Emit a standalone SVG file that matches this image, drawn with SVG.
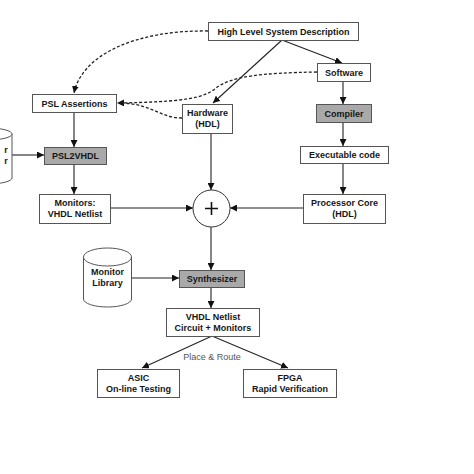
<svg xmlns="http://www.w3.org/2000/svg" width="474" height="474" viewBox="0 0 474 474">
<style>
.b{fill:#fff;stroke:#555;stroke-width:1}
.g{fill:#a9a9a9;stroke:#555;stroke-width:1}
.t{font-family:"Liberation Sans",Arial,sans-serif;font-size:9px;font-weight:bold;fill:#161616;text-anchor:middle}
.c{fill:none;stroke:#222;stroke-width:1.1}
.d{fill:none;stroke:#222;stroke-width:1.3;stroke-dasharray:3,2}
</style>
<defs>
<marker id="a" viewBox="0 0 10 10" refX="10" refY="5" markerWidth="7" markerHeight="7" markerUnits="userSpaceOnUse" orient="auto">
<path d="M0,0 L10,5 L0,10 z" fill="#111"/>
</marker>
</defs>
<rect width="474" height="474" fill="#fff"/>
<g id="connectors">
<path class="c" d="M282,40 L213,103" marker-end="url(#a)"/>
<path class="c" d="M282,40 L342,63" marker-end="url(#a)"/>
<path class="d" d="M208,31 C135,30 82,55 74,93" marker-end="url(#a)"/>
<path class="d" d="M317,72 C262,73 232,76 216,88 C204,98 185,102 117,103" marker-end="url(#a)"/>
<path class="d" d="M182,118 C160,118 152,104 122,103"/>
<path class="c" d="M74,112 L74,147" marker-end="url(#a)"/>
<path class="c" d="M12,155 L44,155" marker-end="url(#a)"/>
<path class="c" d="M74,164 L74,194" marker-end="url(#a)"/>
<path class="c" d="M110,208 L193,208" marker-end="url(#a)"/>
<path class="c" d="M211,133 L211,190" marker-end="url(#a)"/>
<path class="c" d="M303,208 L230,208" marker-end="url(#a)"/>
<path class="c" d="M343,81 L343,104" marker-end="url(#a)"/>
<path class="c" d="M343,122 L343,146" marker-end="url(#a)"/>
<path class="c" d="M343,163 L343,194" marker-end="url(#a)"/>
<path class="c" d="M211,227 L211,270" marker-end="url(#a)"/>
<path class="c" d="M131,278 L179,278" marker-end="url(#a)"/>
<path class="c" d="M211,287 L211,308" marker-end="url(#a)"/>
<path class="c" d="M212,336 L142,368" marker-end="url(#a)"/>
<path class="c" d="M212,336 L288,368" marker-end="url(#a)"/>
</g>
<g id="hlsd"><rect class="b" x="208.500" y="22.500" width="150" height="18"/><text class="t" x="283.500" y="34.500">High Level System Description</text></g>
<g id="software"><rect class="b" x="317.500" y="63.500" width="53" height="18"/><text class="t" x="344" y="75.500">Software</text></g>
<g id="compiler"><rect class="g" x="316.500" y="104.500" width="55" height="18"/><text class="t" x="344" y="116.500">Compiler</text></g>
<g id="exec"><rect class="b" x="300.500" y="146.500" width="88" height="17"/><text class="t" x="344.500" y="158">Executable code</text></g>
<g id="proc"><rect class="b" x="303.500" y="194.500" width="82" height="29"/><text class="t" x="344.500" y="206">Processor Core</text><text class="t" x="344.500" y="217">(HDL)</text></g>
<g id="hardware"><rect class="b" x="182.500" y="104.500" width="50" height="29"/><text class="t" x="207.500" y="116">Hardware</text><text class="t" x="207.500" y="127">(HDL)</text></g>
<g id="psl"><rect class="b" x="32.500" y="94.500" width="84" height="18"/><text class="t" x="74.500" y="106.500">PSL Assertions</text></g>
<g id="psl2vhdl"><rect class="g" x="44.500" y="147.500" width="62" height="17"/><text class="t" x="75.500" y="159">PSL2VHDL</text></g>
<g id="monitors"><rect class="b" x="39.500" y="194.500" width="71" height="29"/><text class="t" x="75" y="206">Monitors:</text><text class="t" x="75" y="217">VHDL Netlist</text></g>
<g id="plus"><circle cx="211.500" cy="208.500" r="18.500" fill="#fff" stroke="#333" stroke-width="1"/><path d="M205,208.500 H218 M211.500,202 V215" stroke="#111" stroke-width="1.6"/></g>
<g id="leftdb"><path class="b" d="M-36,134 V178 A24,6 0 0 0 12,178 V134"/><ellipse class="b" cx="-12" cy="134" rx="24" ry="6"/><text class="t" x="6" y="153">r</text><text class="t" x="6" y="164">r</text></g>
<g id="monlib"><path class="b" d="M83.500,257 V299 A24,8 0 0 0 131.500,299 V257"/><ellipse class="b" cx="107.500" cy="257" rx="24" ry="9"/><text class="t" x="107.500" y="275">Monitor</text><text class="t" x="107.500" y="286">Library</text></g>
<g id="synth"><rect class="g" x="179.500" y="270.500" width="65" height="17"/><text class="t" x="212" y="282">Synthesizer</text></g>
<g id="netlist"><rect class="b" x="166.500" y="308.500" width="93" height="28"/><text class="t" x="213" y="320">VHDL Netlist</text><text class="t" x="213" y="331">Circuit + Monitors</text></g>
<text x="212" y="360" style="font-family:'Liberation Sans',Arial,sans-serif;font-size:9px;fill:#555;text-anchor:middle">Place &amp; Route</text>
<g id="asic"><rect class="b" x="97.500" y="369.500" width="82" height="28"/><text class="t" x="138.500" y="381">ASIC</text><text class="t" x="138.500" y="392">On-line Testing</text></g>
<g id="fpga"><rect class="b" x="243.500" y="369.500" width="93" height="28"/><text class="t" x="290" y="381">FPGA</text><text class="t" x="290" y="392">Rapid Verification</text></g>
</svg>
